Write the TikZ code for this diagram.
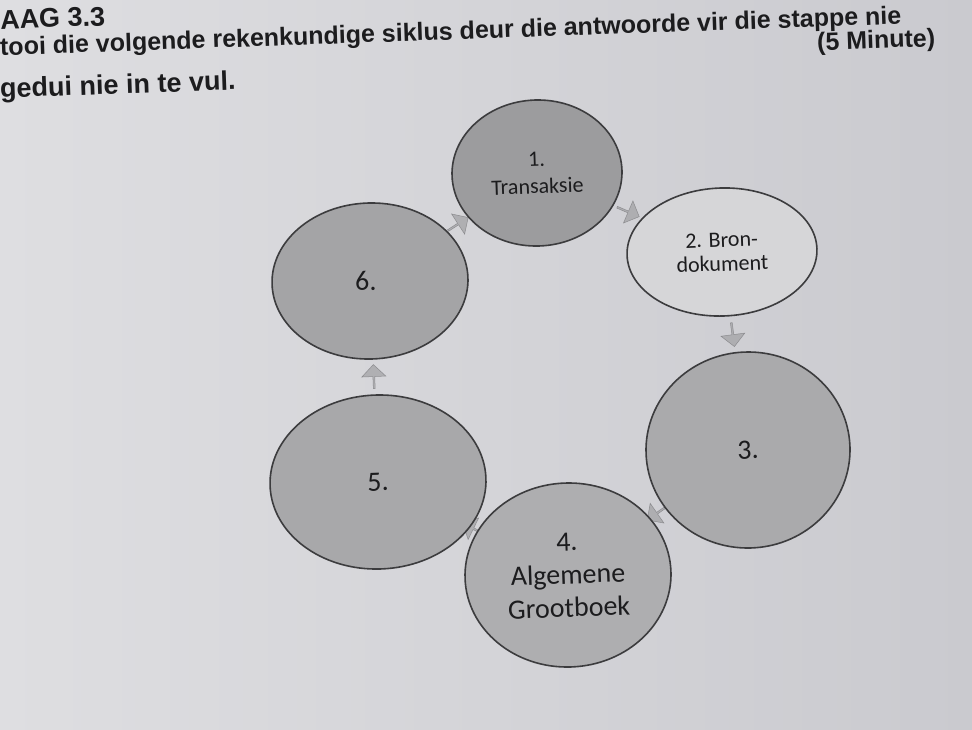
\documentclass[tikz,border=0pt]{standalone}
\usepackage{fontspec}
\setmainfont{Liberation Sans}
\newfontfamily\calibri{Carlito}
\usetikzlibrary{positioning, shapes.geometric, shapes.arrows, backgrounds}

\definecolor{paperL}{RGB}{222,222,225}
\definecolor{paperR}{RGB}{202,202,207}
\definecolor{ink}{RGB}{28,28,30}
\definecolor{rimgray}{RGB}{60,60,62}
\definecolor{fillA}{RGB}{156,156,158}
\definecolor{fillB}{RGB}{214,214,216}
\definecolor{fillC}{RGB}{170,170,172}
\definecolor{fillD}{RGB}{174,174,176}
\definecolor{fillE}{RGB}{168,168,170}
\definecolor{fillF}{RGB}{164,164,166}
\definecolor{arrowgray}{RGB}{160,160,163}
\definecolor{arrowrim}{RGB}{120,120,123}

\begin{document}
\begin{tikzpicture}[
    x=1pt, y=-1pt,
    header/.style={font=\fontsize{25}{28}\selectfont\bfseries, text=ink,
        inner sep=0pt, anchor=west, rotate=2},
    stage/.style={ellipse, draw=rimgray, line width=1.6pt, inner sep=0pt,
        align=center, text=ink, rotate=2},
    cyclearrow/.style={
        single arrow,
        single arrow head extend=3pt,
        minimum height=24pt,
        minimum width=24pt,
        inner sep=0pt,
        fill=arrowgray,
        draw=arrowrim,
        line width=0.5pt,
        opacity=0.7
    }
]

% ===== paper =====
\begin{scope}[on background layer]
    \shade[left color=paperL, right color=paperR] (0,0) rectangle (972,729);
\end{scope}
\useasboundingbox (0,0) rectangle (972,729);

% ===== question heading =====
\node[header, font=\fontsize{27}{30}\selectfont\bfseries] (title) at (0,20) {AAG 3.3};
\node[header] (task) at (0,49) {tooi die volgende rekenkundige siklus deur die antwoorde vir die stappe nie};
\node[header] (marks) at (817,44) {(5 Minute)};
\node[header, font=\fontsize{27}{30}\selectfont\bfseries] (task2) at (0,91) {gedui nie in te vul.};

% ===== cycle stages =====
\foreach \n/\x/\y/\rx/\ry/\col/\fs/\ls/\txt in {
    1/537/173/85/73/fillA/22/27/{1.\\Transaksie},
    2/722/252/95/64/fillB/22/24/{2. Bron-\\dokument},
    3/748/450/102/98/fillC/28/33/{3.},
    4/568/575/103/92/fillD/28/33/{4.\\Algemene\\Grootboek},
    5/378/482/108/87/fillE/28/33/{5.},
    6/370/281/98/78/fillF/28/33/{6.}
}{
    \node[stage, fill=\col, minimum width=2*\rx, minimum height=2*\ry,
          font=\calibri\fontsize{\fs}{\ls}\selectfont] (e\n) at (\x,\y) {\txt};
}

% ===== arrows between stages =====
\begin{scope}[on background layer]
\foreach \a/\b in {1/2, 2/3, 3/4, 4/5, 5/6, 6/1} {
    \path (e\a) -- (e\b) node[cyclearrow, midway, sloped, allow upside down] (arr\a) {};
}
\end{scope}

\end{tikzpicture}
\end{document}
